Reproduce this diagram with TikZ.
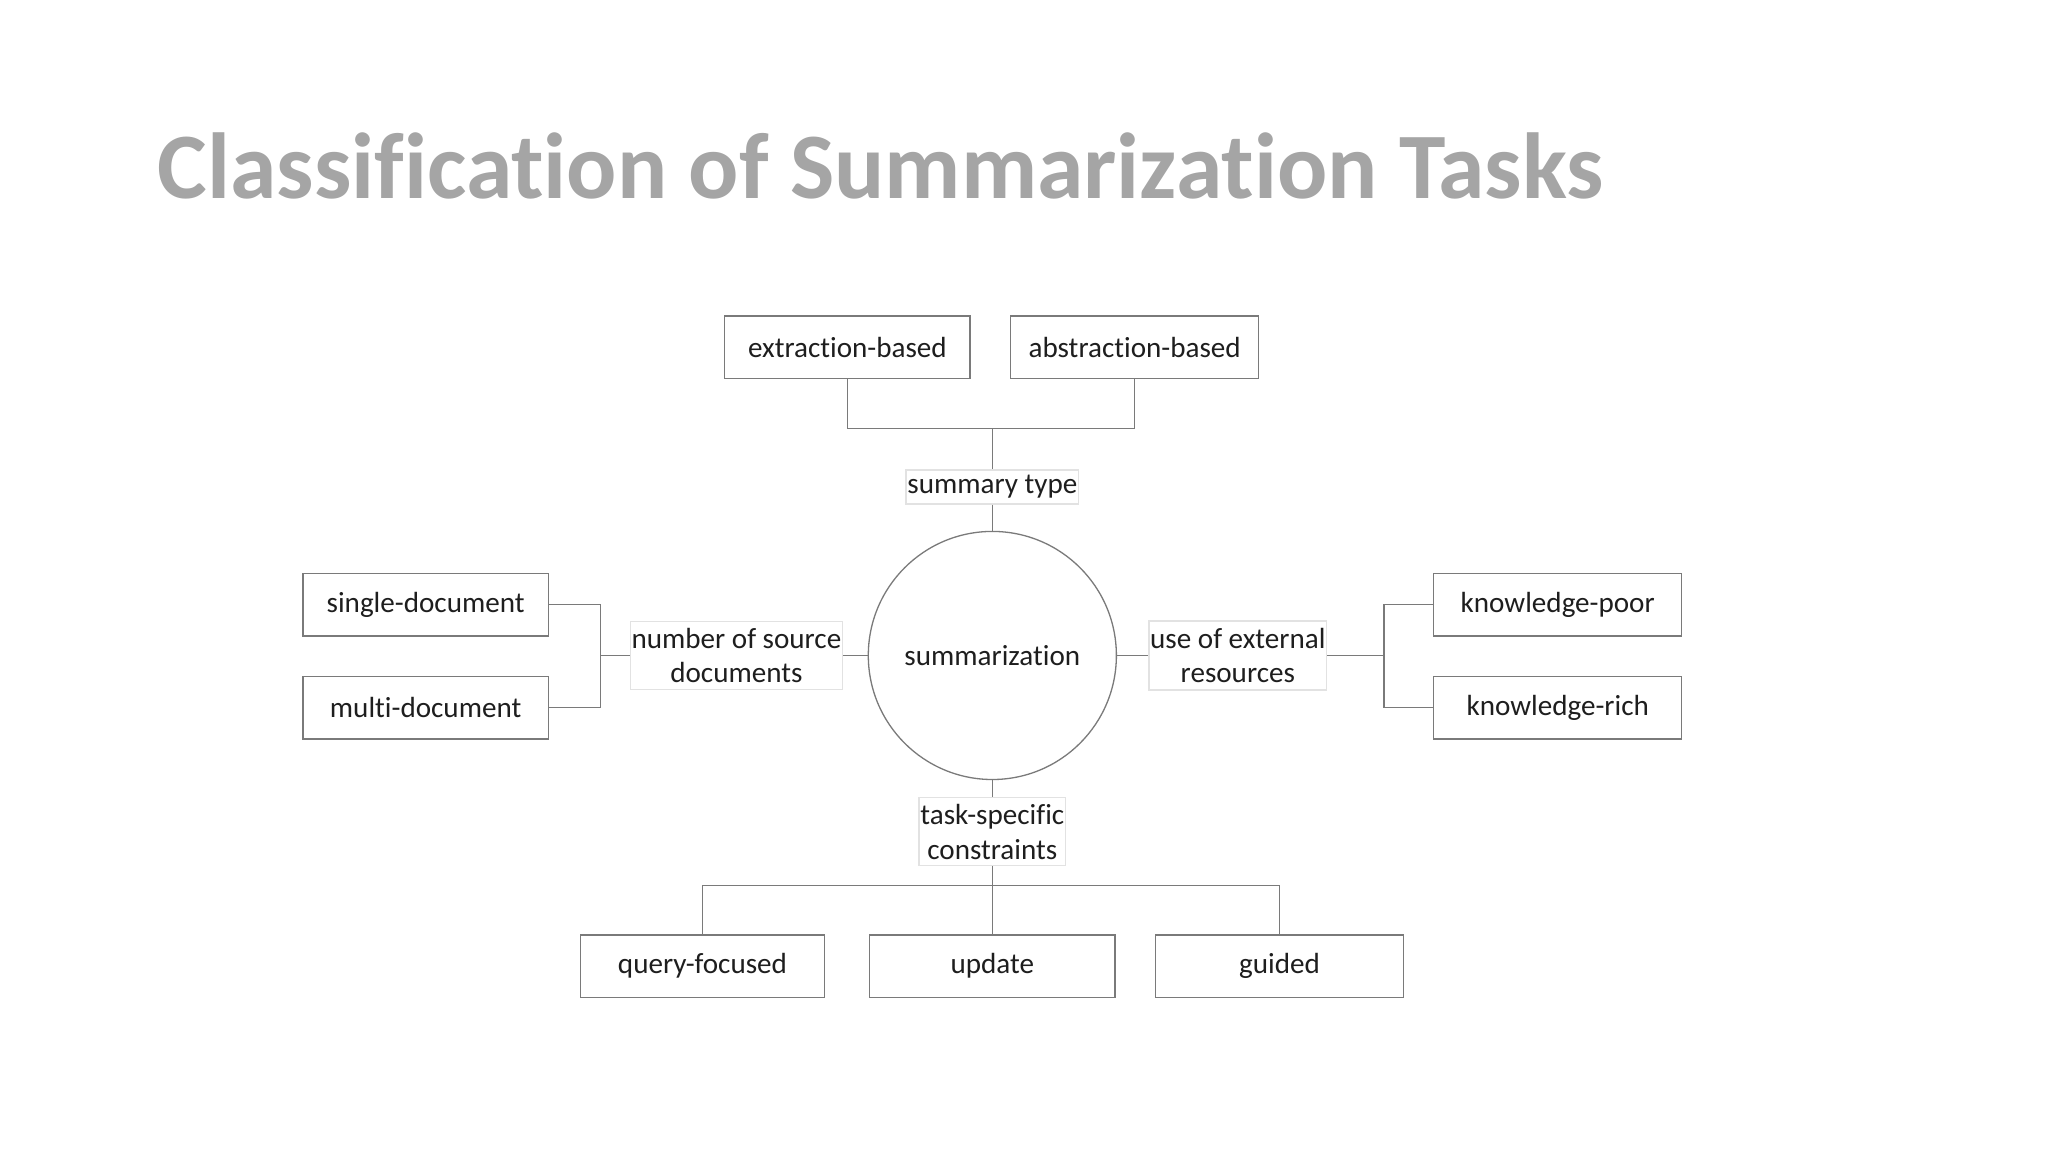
\documentclass[tikz,border=0pt]{standalone}
\usepackage{fontspec}
\setmainfont{Carlito}[Ligatures={NoCommon}]
\usepackage{tikz}

\definecolor{titlegray}{HTML}{A5A5A5}
\definecolor{linegray}{HTML}{7A7A7A}
\definecolor{labelgray}{HTML}{E2E2E2}
\definecolor{textdark}{HTML}{1E1E1E}

\begin{document}
\begin{tikzpicture}[x=1pt, y=-1pt, line width=1pt,
  catbox/.style={draw=linegray, fill=white, minimum width=188pt, minimum height=48pt,
    inner sep=0pt, text=textdark, font=\fontsize{22.3}{26}\selectfont},
  dimlabel/.style={draw=labelgray, fill=white, inner sep=1pt, align=center, text=textdark,
    font=\fontsize{22.3}{26.5}\selectfont},
  wire/.style={draw=linegray}]
\useasboundingbox (0,0) rectangle (1568.5,882.3);
\node[anchor=base west, text=titlegray, font=\fontsize{71.8}{80}\selectfont\bfseries] (title) at (117,152) {Classification of Summarization Tasks};
\node[draw=linegray, circle, minimum size=190pt, inner sep=0pt, text=textdark,
  font=\fontsize{22.3}{26}\selectfont] (sum) at (760,502) {summarization};
\node[catbox] (ext) at (649,266) {extraction-based};
\node[catbox, minimum width=190pt] (abs) at (869,266) {abstraction-based};
\node[dimlabel, minimum width=130pt, minimum height=26pt] (typ) at (760,373) {summary type};
\node[catbox] (single) at (326,463) {single-document};
\node[catbox] (multi) at (326,542) {multi-document};
\node[dimlabel, minimum width=161pt, minimum height=52pt] (nsd) at (564,502) {number of source\\documents};
\node[catbox, minimum width=190pt] (kpoor) at (1193,463) {knowledge-poor};
\node[catbox, minimum width=190pt] (krich) at (1193,542) {knowledge-rich};
\node[dimlabel, minimum width=136pt, minimum height=53pt] (uer) at (948,502) {use of external\\resources};
\node[dimlabel, minimum width=110pt, minimum height=52pt] (tsc) at (760,637) {task-specific\\constraints};
\node[catbox, minimum width=187pt] (qf) at (538,740) {query-focused};
\node[catbox] (upd) at (760,740) {update};
\node[catbox, minimum width=190pt] (gd) at (980,740) {guided};
\coordinate (tj) at (760,328);
\coordinate (lj) at (460,502);
\coordinate (rj) at (1060,502);
\coordinate (bj) at (760,678);
\draw[wire] (ext) |- (tj) -| (abs);
\draw[wire] (tj) -- (typ) -- (sum);
\draw[wire] (single) -| (lj) |- (multi);
\draw[wire] (lj) -- (nsd) -- (sum);
\draw[wire] (kpoor) -| (rj) |- (krich);
\draw[wire] (rj) -- (uer) -- (sum);
\draw[wire] (sum) -- (tsc) -- (bj);
\draw[wire] (qf) |- (bj) -| (gd);
\draw[wire] (bj) -- (upd);
\end{tikzpicture}
\end{document}
